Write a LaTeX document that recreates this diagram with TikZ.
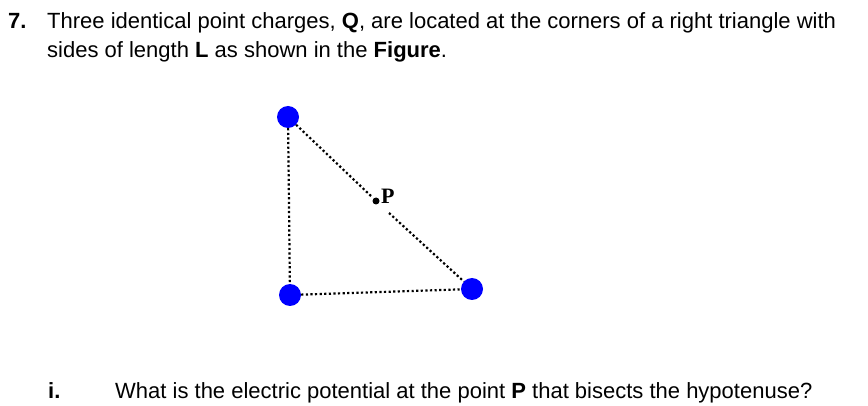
\documentclass[tikz,border=0pt]{standalone}
\usepackage{fontspec}
\setmainfont{Liberation Sans}
\newfontfamily\serifP{Liberation Serif}
\begin{document}
\begin{tikzpicture}[x=1pt,y=-1pt,
  charge/.style={circle,fill=blue,minimum size=22pt,inner sep=0pt},
  dotline/.style={line width=2.2pt,dash pattern=on 2.2pt off 2.4pt},
  txt/.style={anchor=base west,inner sep=0pt,font=\fontsize{22}{26}\selectfont}]
\useasboundingbox (0,0) rectangle (868,406);
\node[txt] (num) at (8,29) {\textbf{7.}};
\node[txt] (l1) at (47,29) {Three identical point charges, \textbf{Q}, are located at the corners of a right triangle with};
\node[txt] (l2) at (47,58) {sides of length \textbf{L} as shown in the \textbf{Figure}.};
\node[charge] (a) at (288,117) {};
\node[charge] (b) at (290,295) {};
\node[charge] (c) at (472,289) {};
\node[circle,fill=black,minimum size=7pt,inner sep=0pt] (p) at (376,201) {};
\node[anchor=west,inner sep=0pt,font=\serifP\fontsize{22}{24}\selectfont\bfseries] (pl) at (381,196) {P};
\coordinate (g1) at (371,196);
\coordinate (g2) at (389,213);
\draw[dotline] (a) -- (b);
\draw[dotline] (b) -- (c);
\draw[dotline] (a) -- (g1);
\draw[dotline] (g2) -- (c);
\node[txt] (ii) at (48,398) {\textbf{i.}};
\node[txt] (q) at (115,398) {What is the electric potential at the point \textbf{P} that bisects the hypotenuse?};
\end{tikzpicture}
\end{document}
